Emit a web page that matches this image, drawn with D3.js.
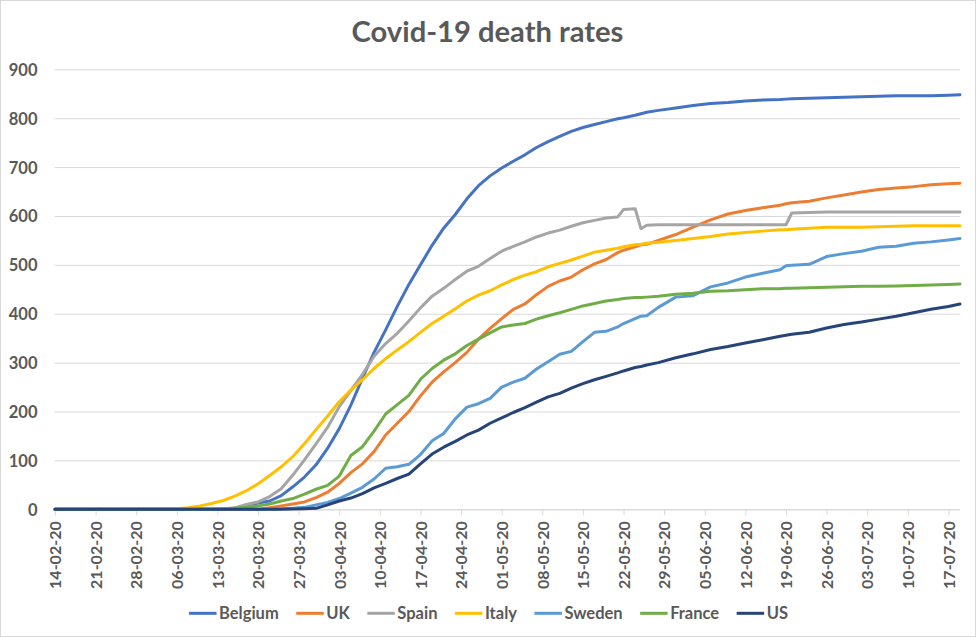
<!DOCTYPE html>
<html>
<head>
<meta charset="utf-8">
<script src="https://cdn.jsdelivr.net/npm/d3@7"></script>
<style>
  html, body { margin: 0; padding: 0; background: #fff; }
  svg { display: block; }
  text { font-family: Lato, "Open Sans", "DejaVu Sans", sans-serif; fill: #595959; font-weight: 700; }
</style>
</head>
<body>
<svg id="chart" width="976" height="637"></svg>
<script>
// ---------------- DATA ----------------
const dates = ["14-02-20","04-03-20","06-03-20","08-03-20","10-03-20","12-03-20","14-03-20","16-03-20","18-03-20","20-03-20",
  "22-03-20","24-03-20","26-03-20","28-03-20","30-03-20","01-04-20","03-04-20","05-04-20","07-04-20","09-04-20",
  "11-04-20","13-04-20","15-04-20","17-04-20","19-04-20","21-04-20","23-04-20","25-04-20","27-04-20","29-04-20",
  "01-05-20","03-05-20","05-05-20","07-05-20","09-05-20","11-05-20","13-05-20","15-05-20","17-05-20","19-05-20",
  "21-05-20","22-05-20","24-05-20","25-05-20","26-05-20","28-05-20","31-05-20","03-06-20","06-06-20","09-06-20",
  "12-06-20","15-06-20","18-06-20","19-06-20","20-06-20","23-06-20","26-06-20","29-06-20","02-07-20","05-07-20",
  "08-07-20","11-07-20","14-07-20","17-07-20","19-07-20"];

const belgium = [0,0,0,0,0,0,0.5,1,5,13, 17,28,46,66,91,125,165,213,268,321,
  367,415,460,500,540,575,603,635,662,682, 698,712,725,740,752,763,773,781,787,793,
  799,801,806,809,812,816,821,826,830,832, 835,837,838,839,840,841,842,843,844,845,
  846,846,846,847,848];
const uk = [0,0,0,0,0,0,0,0,0,0, 3,7,11,15,24,35,53,75,93,118,
  152,176,200,232,260,281,300,321,348,370, 390,409,420,439,456,467,475,490,502,511,
  525,530,537,541,542,550,562,577,592,604, 611,617,622,625,627,630,637,643,649,654,
  657,660,664,666,667];
const spain = [0,0,0,0,0,0,0.5,3,10,15, 26,42,70,101,134,168,210,243,276,313,
  339,360,385,412,436,452,470,487,497,513, 528,538,547,557,565,571,579,586,591,596,
  598,613,615,574,581,582,582,582,582,582, 582,582,582,582,606,607,608,608,608,608,
  608,608,608,608,608];
const italy = [0,0.5,1,3,7,12,18,27,38,52, 69,87,108,134,163,191,220,244,265,288,
  308,326,343,362,380,395,410,426,438,447, 459,470,479,486,496,503,510,518,526,530,
  534,537,541,542,544,546,550,554,558,563, 566,569,572,572,573,575,577,577,577,578,
  579,580,580,580,580];
const sweden = [0,0,0,0,0,0,0,0,0,0, 0,1,2,4,9,14,22,33,45,62,
  84,87,92,112,140,155,185,209,216,227, 250,260,268,287,302,317,323,343,362,364,
  373,380,390,395,396,413,434,437,455,463, 475,483,490,498,499,501,517,523,528,536,
  538,544,547,551,554];
const france = [0,0,0,0,0,0,0,2,4,7, 11,17,22,31,41,49,68,110,128,160,
  195,214,233,266,288,305,318,335,348,361, 373,377,380,389,396,402,409,416,421,426,
  429,431,433,433,434,436,440,442,446,447, 449,451,451,452,452,453,454,455,456,456,
  457,458,459,460,461];
const us = [0,0,0,0,0,0,0,0,0,0, 0,0,0.5,1,2,9,17,23,32,44,
  53,63,72,93,113,127,139,152,162,176, 187,198,208,219,230,237,248,257,265,272,
  279,283,290,292,295,300,310,318,327,333, 340,347,354,356,358,362,371,378,383,389,
  395,402,409,415,420];

const seriesNames = ["Belgium","UK","Spain","Italy","Sweden","France","US"];
const seriesValues = [belgium, uk, spain, italy, sweden, france, us];
const seriesColors = ["#4472C4","#ED7D31","#A5A5A5","#FFC000","#5B9BD5","#70AD47","#264478"];

const xTickLabels = ["14-02-20","21-02-20","28-02-20","06-03-20","13-03-20","20-03-20","27-03-20","03-04-20",
  "10-04-20","17-04-20","24-04-20","01-05-20","08-05-20","15-05-20","22-05-20","29-05-20","05-06-20",
  "12-06-20","19-06-20","26-06-20","03-07-20","10-07-20","17-07-20"];
const yTicks = [0,100,200,300,400,500,600,700,800,900];
const titleText = "Covid-19 death rates";

// ---------------- CHART ----------------
(function(){
const W = 976, H = 637;
const pLeft = 54.5, pRight = 960, pTop = 69.3, pBottom = 509.3;
const parse = d3.utcParse("%d-%m-%y");
const svg = d3.select("#chart");

svg.append("rect").attr("x",0.5).attr("y",0.5).attr("width",W-1).attr("height",H-1)
  .attr("fill","#fff").attr("stroke","#d9d9d9");

const x = d3.scaleUtc().domain([parse(dates[0]), parse(dates[dates.length-1])]).range([55, pRight]);
const y = d3.scaleLinear().domain([0, 900]).range([pBottom, pTop]);

// title
const title = svg.append("text").attr("x", 487.5).attr("y", 41.5).attr("text-anchor","middle")
  .style("font-size","29px").text(titleText);
const tw = title.node().getComputedTextLength();
title.style("font-size", (29*272/tw).toFixed(2)+"px");

// y axis + gridlines
const gy = svg.append("g").attr("transform",`translate(${pLeft},0)`)
  .call(d3.axisLeft(y).tickValues(yTicks).tickSize(-(pRight-pLeft)).tickPadding(17));
gy.select(".domain").remove();
gy.selectAll(".tick line").attr("stroke","#d9d9d9").attr("stroke-width",1);
gy.selectAll(".tick text").style("font-size","16.5px").attr("fill","#595959").attr("dy","0.36em");

// x axis
const gx = svg.append("g").attr("transform",`translate(0,${pBottom})`)
  .call(d3.axisBottom(x).tickValues(xTickLabels.map(parse)).tickSize(6)
        .tickFormat((d,i)=>xTickLabels[i]));
gx.select(".domain").attr("stroke","#d9d9d9").attr("d",`M${pLeft},0.5H${pRight}`);
gx.selectAll(".tick line").attr("stroke","#d9d9d9");
gx.selectAll(".tick text")
  .style("font-size","16px").attr("fill","#595959")
  .attr("text-anchor","end")
  .attr("transform","rotate(-90)")
  .attr("x",-12).attr("y",0).attr("dy","0.36em");

// lines
const data = seriesNames.map((n,i)=>({name:n, color:seriesColors[i],
  pts: dates.map((d,j)=>({date:parse(d), v:seriesValues[i][j]}))}));
const line = d3.line().x(d=>x(d.date)).y(d=>y(d.v));
svg.append("g").selectAll("path").data(data).join("path")
  .attr("d", d=>line(d.pts)).attr("fill","none")
  .attr("stroke", d=>d.color).attr("stroke-width",3)
  .attr("stroke-linejoin","round").attr("stroke-linecap","round");

// legend
const lg = svg.append("g");
const legendY = 613.3;
const items = lg.selectAll("g").data(data).join("g");
items.append("line").attr("x1",0).attr("x2",27.5).attr("y1",legendY).attr("y2",legendY)
  .attr("stroke",d=>d.color).attr("stroke-width",3);
items.append("text").attr("x",30).attr("y",legendY).attr("dy","0.36em")
  .style("font-size","16.5px").text(d=>d.name);
let cx = 0; const pos = [];
items.each(function(){
  pos.push(cx);
  const w = d3.select(this).select("text").node().getComputedTextLength();
  cx += 30 + w + 17.5;
});
const total = cx - 17.5;
const startX = 488.5 - total/2;
items.attr("transform",(d,i)=>`translate(${startX+pos[i]},0)`);
})();
</script>
</body>
</html>
